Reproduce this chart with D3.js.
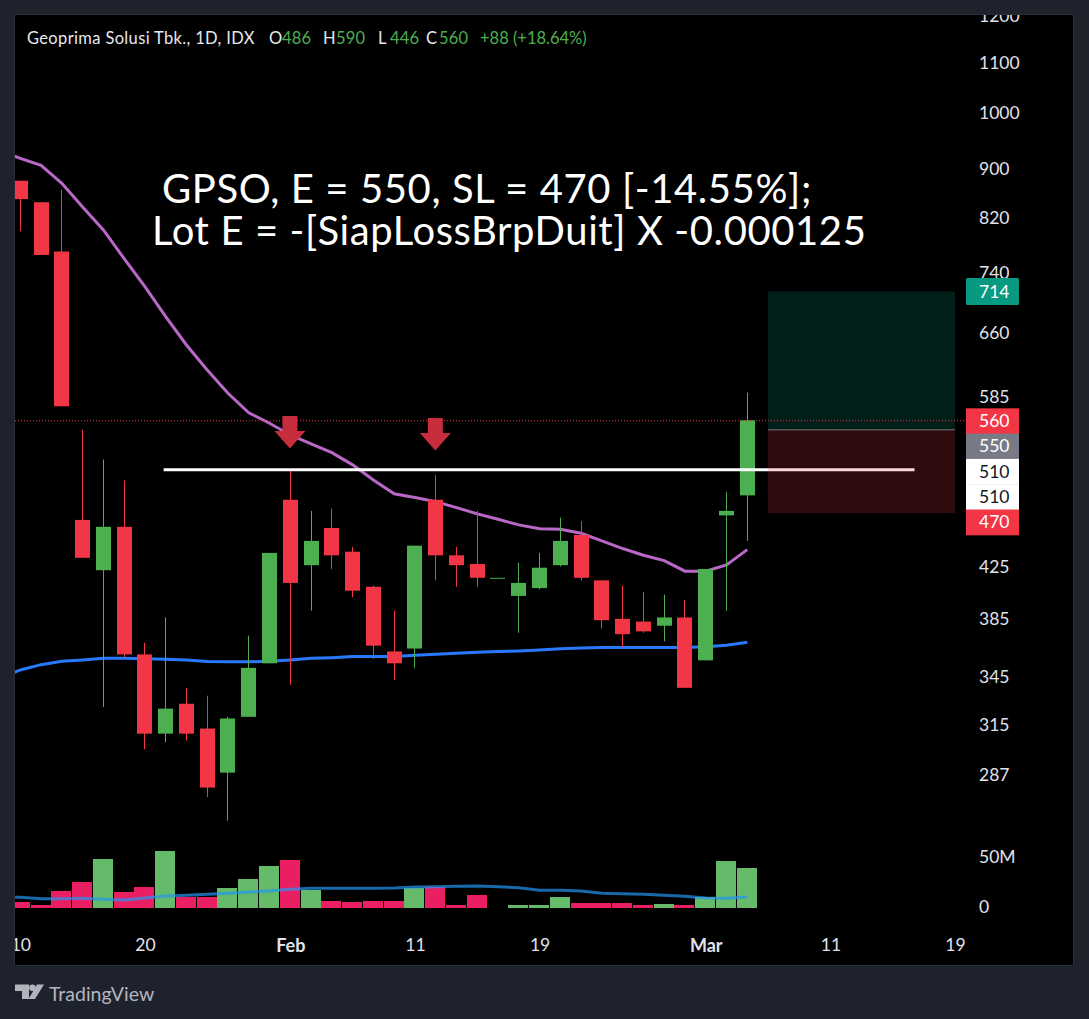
<!DOCTYPE html>
<html>
<head>
<meta charset="utf-8">
<title>GPSO</title>
<script src="https://d3js.org/d3.v7.min.js"></script>
<style>
  html, body { margin: 0; padding: 0; background: #1e222d; }
  svg { display: block; }
  text { font-family: Lato, "Noto Sans", sans-serif; }
</style>
</head>
<body>
<svg id="chart"></svg>
<script>
const open  = [880,845,770,464,422,458,360,310,328,313,288,320,354,482,426,457,437,409,362,364,482,434,427,416,402,408,426,451,414,385,383,380,386,356,468,486];
const high  = [880,845,865,550,520,500,368,386,338,333,320,373,436,510,472,474,441,410,391,442,505,441,472,416,428,436,466,463,414,410,405,403,399,423,489,590];
const low   = [800,765,575,432,326,358,301,305,306,275,263,320,354,340,391,423,401,357,343,351,414,409,409,416,375,407,425,414,378,365,375,369,338,356,391,446];
const close = [850,765,575,432,458,360,310,325,310,280,319,351,436,412,446,434,406,366,354,442,434,426,416,416,412,424,446,416,384,374,376,386,338,423,472,560];
const volume = [6,3,17,26,49,16,21,57,11,11,20,29,42,48,18,7,6,7,7,20,21,3,13,0,3,3,11,5,5,5,3,4,3,11,47,40];

// moving averages start one bar before the first candle, it gets clipped at the left edge
const maPurple = [931,918,906,875.8,837.5,802,759.7,720.6,681,645.5,615.8,589.3,568,556.9,544.7,535.5,526.8,514.8,500.4,487.4,484,480.3,474.9,469.3,464.6,459.7,456.4,455.9,452.5,446,439.6,434.1,429.7,421.2,421.2,426.2,438.7];
const maBlue = [344.2,349.6,353.1,355.4,356.3,357.4,357.4,357,356.8,356.3,355.2,355,355,355.4,356.3,357.4,357.8,358.5,358.5,358.5,359.5,360.1,360.8,361.5,361.9,362.3,363,363.9,364.4,364.8,364.8,364.8,364.8,364.8,365.2,366.2,368.3];
const maVolume = [11,10.7,9.3,9.3,9.7,8.7,8,10,12,12.7,13.7,14.7,16,17,18.7,19.7,19.7,19.7,19.7,20,21,21.3,21.7,22,21.3,20.3,17.7,17.7,17,14.7,14.3,13.7,12.7,11.7,10,9.7,11];

const priceTicks = [1200,1100,1000,900,820,740,660,585,425,385,345,315,287];
const volumeTicks = [0,50];
const dateTicks = [0,6,13,19,25,33,39,45];
const dateLabels = ["10","20","Feb","11","19","Mar","11","19"];
const boldDates = ["Feb","Mar"];

const priceTags = [560,550,510,510,470];
const priceTagColors = ["#f23645","#787b86","#ffffff","#ffffff","#f23645"];
const targetPrice = 714, entryPrice = 550, stopPrice = 470, lastPrice = 560, linePrice = 510;
const arrowBars = [13,20];
const arrowTips = [531,529];

const width = 1089, height = 1019;
const plot = {left: 15, top: 15, right: 1073, bottom: 965};
const red = "#f23645", green = "#4caf50";

const svg = d3.select("#chart").attr("width", width).attr("height", height);

const x = d3.scaleLinear().domain([0, 35]).range([20.3, 747.3]);
const y = d3.scaleLog().domain([1100, 287]).range([62.5, 774.5]);
const yVol = d3.scaleLinear().domain([0, 50]).range([908, 858]);
const barX = i => Math.floor(x(i) - 0.05);

svg.append("defs").append("clipPath").attr("id", "plot-clip")
    .append("rect")
    .attr("x", plot.left).attr("y", plot.top)
    .attr("width", plot.right - plot.left).attr("height", plot.bottom - plot.top);

svg.append("rect").attr("width", width).attr("height", height).attr("fill", "#1e222d");
svg.append("rect")
    .attr("x", plot.left - 0.5).attr("y", plot.top - 0.5)
    .attr("width", plot.right - plot.left + 1).attr("height", plot.bottom - plot.top + 1)
    .attr("fill", "#000").attr("stroke", "#2a2e39");

const g = svg.append("g").attr("clip-path", "url(#plot-clip)");
const isUp = i => close[i] >= open[i];
const bars = d3.range(open.length);

// volume
g.append("g").selectAll("rect").data(bars).enter().append("rect")
    .attr("x", i => barX(i) - 10)
    .attr("y", i => yVol(volume[i]))
    .attr("width", 20)
    .attr("height", i => yVol(0) - yVol(volume[i]))
    .attr("fill", i => isUp(i) ? "#66bb6a" : "#e91e63");

g.append("path")
    .attr("d", d3.line().x((d, i) => x(i - 1)).y(d => yVol(d))(maVolume))
    .attr("fill", "none").attr("stroke", "#2196f3").attr("stroke-opacity", 0.7).attr("stroke-width", 3);

// moving averages sit under the candles
const maLine = d3.line().x((d, i) => x(i - 1)).y(d => y(d));
g.append("path").attr("d", maLine(maPurple))
    .attr("fill", "none").attr("stroke", "#ba68c8").attr("stroke-width", 3);
g.append("path").attr("d", maLine(maBlue))
    .attr("fill", "none").attr("stroke", "#2979ff").attr("stroke-width", 3);

// candles
const candles = g.append("g");
candles.selectAll("line").data(bars).enter().append("line")
    .attr("x1", i => barX(i) + 0.5)
    .attr("x2", i => barX(i) + 0.5)
    .attr("y1", i => y(high[i]))
    .attr("y2", i => y(low[i]))
    .attr("stroke", i => isUp(i) ? green : red)
    .attr("stroke-width", 1);
candles.selectAll("rect").data(bars).enter().append("rect")
    .attr("x", i => barX(i) - 7)
    .attr("y", i => y(Math.max(open[i], close[i])))
    .attr("width", 15)
    .attr("height", i => Math.max(1, Math.abs(y(open[i]) - y(close[i]))))
    .attr("fill", i => isUp(i) ? green : red);

// drawn level, the position box goes over it
g.append("line")
    .attr("x1", x(6.9)).attr("x2", x(43.05))
    .attr("y1", y(linePrice)).attr("y2", y(linePrice))
    .attr("stroke", "#fff").attr("stroke-width", 3);

// long position box
g.append("rect")
    .attr("x", x(36)).attr("width", x(45) - x(36))
    .attr("y", y(targetPrice)).attr("height", y(entryPrice) - y(targetPrice))
    .attr("fill", "#089981").attr("fill-opacity", 0.2);
g.append("rect")
    .attr("x", x(36)).attr("width", x(45) - x(36))
    .attr("y", y(entryPrice)).attr("height", y(stopPrice) - y(entryPrice))
    .attr("fill", red).attr("fill-opacity", 0.2);
g.append("line")
    .attr("x1", x(36)).attr("x2", x(45))
    .attr("y1", y(entryPrice)).attr("y2", y(entryPrice))
    .attr("stroke", "#787b86").attr("stroke-width", 1);

// last price line
g.append("line")
    .attr("x1", plot.left).attr("x2", 967)
    .attr("y1", y(lastPrice) + 0.5).attr("y2", y(lastPrice) + 0.5)
    .attr("stroke", red).attr("stroke-width", 1).attr("stroke-dasharray", "1,2");

// arrows
g.append("g").selectAll("path").data(arrowBars).enter().append("path")
    .attr("transform", (d, i) => `translate(${x(d) - 0.4},${y(arrowTips[i])})`)
    .attr("d", "M0,0 L-15.5,-17.5 L-7.5,-17.5 L-7.5,-32.5 L7.5,-32.5 L7.5,-17.5 L15.5,-17.5 Z")
    .attr("fill", "#c62e3d");

// annotation
const note = g.append("g").attr("fill", "#fff").attr("font-size", 40).attr("letter-spacing", 0.6);
note.append("text").attr("x", 162).attr("y", 203).text("GPSO, E = 550, SL = 470 [-14.55%];");
note.append("text").attr("x", 152).attr("y", 245).text("Lot E = -[SiapLossBrpDuit] X -0.000125");

// axes
const axisColor = "#e0e3eb";
const yAxis = g.append("g")
    .attr("transform", "translate(971,0)")
    .call(d3.axisRight(y).tickValues(priceTicks).tickFormat(d3.format("d")).tickSize(0).tickPadding(8));
const volAxis = g.append("g")
    .attr("transform", "translate(971,-1)")
    .call(d3.axisRight(yVol).tickValues(volumeTicks).tickFormat(d => d ? d + "M" : "0").tickSize(0).tickPadding(8));
const xAxis = g.append("g")
    .attr("transform", "translate(0,939)")
    .call(d3.axisBottom(x).tickValues(dateTicks).tickFormat((d, i) => dateLabels[i]).tickSize(0).tickPadding(0));
[yAxis, volAxis, xAxis].forEach(a => {
    a.select(".domain").remove();
    a.selectAll("text").attr("fill", axisColor).attr("font-size", 17.5)
        .attr("font-family", "Lato, 'Noto Sans', sans-serif");
});
xAxis.selectAll("text")
    .attr("font-weight", (d, i) => boldDates.includes(dateLabels[i]) ? 700 : 400)
    .attr("font-size", (d, i) => boldDates.includes(dateLabels[i]) ? 18 : 17.5);

// price tags, stacked down from the last price
const tagHeight = 25.3;
const tagY = i => y(priceTags[0]) + 0.7 + i * tagHeight;
const tags = g.append("g");
tags.selectAll("rect").data(priceTags).enter().append("rect")
    .attr("x", 966).attr("width", 53)
    .attr("y", (d, i) => tagY(i) - tagHeight / 2)
    .attr("height", tagHeight + 0.5)
    .attr("fill", (d, i) => priceTagColors[i]);
tags.selectAll("text").data(priceTags).enter().append("text")
    .attr("x", 979).attr("y", (d, i) => tagY(i)).attr("dy", "0.35em")
    .attr("font-size", 17.5)
    .attr("fill", (d, i) => priceTagColors[i] === "#ffffff" ? "#131722" : "#fff")
    .text(d => d);
const target = g.append("g").attr("transform", `translate(0,${y(targetPrice)})`);
target.append("rect").attr("x", 966).attr("y", -13.5).attr("width", 53).attr("height", 27).attr("rx", 1.5).attr("fill", "#089981");
target.append("text").attr("x", 979).attr("dy", "0.35em").attr("font-size", 17.5).attr("fill", "#fff").text(targetPrice);

// legend
const legendItems = [
    {t: "Geoprima Solusi Tbk., 1D, IDX", x: 27, c: "#e6e8ee", s: 0.35},
    {t: "O", x: 269, c: "#e6e8ee", s: 0}, {t: "486", x: 282, c: green, s: 0.2},
    {t: "H", x: 323, c: "#e6e8ee", s: 0}, {t: "590", x: 336, c: green, s: 0.2},
    {t: "L", x: 378, c: "#e6e8ee", s: 0}, {t: "446", x: 390, c: green, s: 0.2},
    {t: "C", x: 426, c: "#e6e8ee", s: 0}, {t: "560", x: 439, c: green, s: 0.2},
    {t: "+88 (+18.64%)", x: 480, c: green, s: 0}
];
g.append("g").selectAll("text").data(legendItems).enter().append("text")
    .attr("x", d => d.x).attr("y", 44).attr("font-size", 16.5)
    .attr("letter-spacing", d => d.s)
    .attr("fill", d => d.c).text(d => d.t);

// footer logo
const logo = svg.append("g").attr("fill", "#b2b5be");
logo.append("path").attr("d", "M15,984.5 H29 V999 H22 V991 H15 Z");
logo.append("circle").attr("cx", 32.4).attr("cy", 987.8).attr("r", 3.3);
logo.append("path").attr("d", "M37,984.5 H44 L35,999 H28.5 Z");
logo.append("text").attr("x", 49).attr("y", 1000.5).attr("font-size", 19.5).text("TradingView");
</script>
</body>
</html>
